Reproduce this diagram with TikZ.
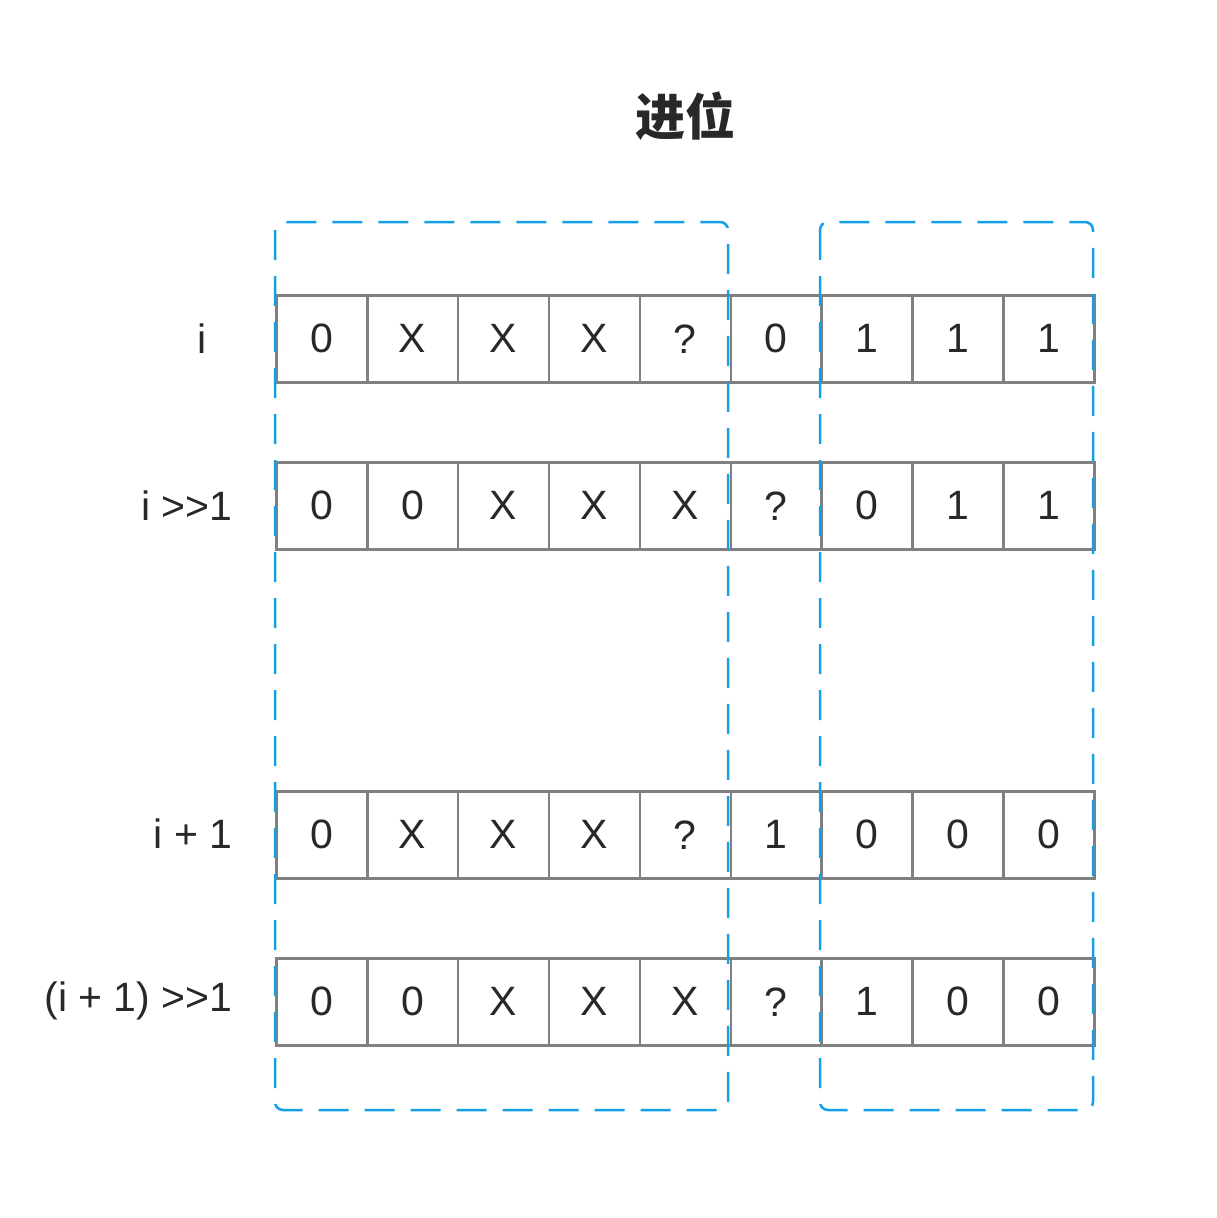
\documentclass[tikz,border=0pt]{standalone}
\usepackage{fontspec}
\setmainfont{Liberation Sans}
\newfontfamily\cjk{Noto Sans CJK SC}
\definecolor{cellgray}{RGB}{128,128,128}
\definecolor{dashblue}{RGB}{20,160,230}
\definecolor{txt}{RGB}{40,40,40}
\begin{document}
\begin{tikzpicture}[x=1pt,y=-1pt,
  cell/.style={draw=cellgray,line width=2.5pt,minimum width=91pt,minimum height=87pt,inner sep=0pt,anchor=north west,font=\fontsize{41}{41}\selectfont,text=txt},
  lab/.style={anchor=east,font=\fontsize{41}{41}\selectfont,text=txt},
  grp/.style={draw=dashblue,line width=2.5pt,dash pattern=on 30pt off 16pt,rounded corners=8pt}]
\useasboundingbox (0,0) rectangle (1217,1218);
\node[font=\cjk\bfseries\fontsize{50}{50}\selectfont,text=txt] (title) at (685,116) {进位};
\foreach \r/\y/\vals in {a/294/{0,X,X,X,?,0,1,1,1},b/461/{0,0,X,X,X,?,0,1,1},c/790/{0,X,X,X,?,1,0,0,0},d/957/{0,0,X,X,X,?,1,0,0}}{
  \foreach \v [count=\k from 0] in \vals {
    \node[cell] (\r\k) at ({275+\k*90.9},\y) {\v};
  }
}
\node[lab] (la) at (210,339) {i};
\node[lab] (lb) at (236,506) {i >{}>1};
\node[lab] (lc) at (236,834) {i + 1};
\node[lab] (ld) at (236,1001) {(i + 1) >{}>1};
\draw[grp] (275,222) rectangle (728,1110);
\draw[grp] (820,222) rectangle (1093,1110);
\end{tikzpicture}
\end{document}
